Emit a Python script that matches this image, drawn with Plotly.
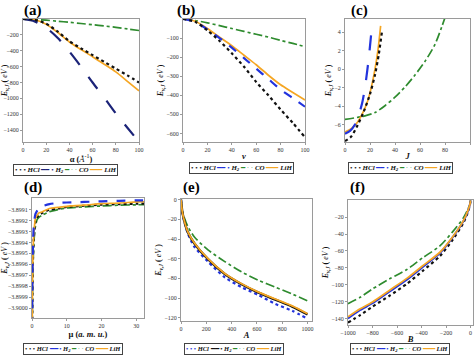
import plotly.graph_objects as go

W, H = 474, 355

# ---------------- data ----------------
# (a) E vs alpha
alpha = [0, 10, 20, 30, 40, 50, 60, 70, 80, 90, 100]
a_HCl = [0, -10, -60, -160, -280, -370, -455, -540, -625, -710, -800]
a_H2 = [0, -30, -110, -240, -410, -600, -800, -990, -1190, -1370, -1550]
a_CO = [0, -5, -15, -28, -42, -57, -72, -88, -105, -125, -145]
a_LiH = [0, -10, -65, -170, -290, -385, -475, -570, -667, -785, -905]

# (b) E vs v
v = [0, 10, 20, 30, 40, 50, 60, 70, 80, 90, 100]
b_HCl = [0, -15, -60, -115, -180, -250, -330, -400, -475, -545, -620]
b_H2 = [0, -15, -55, -100, -150, -205, -260, -315, -370, -415, -460]
b_CO = [0, -8, -20, -35, -50, -65, -80, -95, -112, -128, -145]
b_LiH = [0, -12, -50, -95, -140, -190, -240, -295, -345, -385, -425]

# (c) E vs J
J_HCl = [0, 5, 10, 15, 20, 24, 27, 29.5]
c_HCl = [-7.8, -7.3, -6.1, -4.6, -2.7, -0.6, 1.6, 4.0]
J_H2 = [0, 4, 8, 11, 14, 16.5, 19, 21.5]
c_H2 = [-7.0, -6.7, -6.0, -5.0, -3.5, -1.5, 1.2, 4.6]
J_CO = [0, 16, 24, 32, 40, 48, 56, 64, 72, 77.3, 81]
c_CO = [-5.45, -5.07, -4.7, -3.96, -3.04, -1.93, -0.63, 0.85, 2.7, 4.56, 6.0]
J_LiH = [0, 5, 10, 14, 18, 21, 24, 26.5, 28.5]
c_LiH = [-6.8, -6.45, -5.75, -4.8, -3.5, -2.0, 0.0, 2.2, 4.7]

# (d) E vs mu
mu = [0.02, 0.1, 0.2, 0.3, 0.5, 0.75, 1, 1.5, 2, 3, 5, 7.5, 10, 15, 20, 25, 30, 33]
d_HCl = [-3.9006, -3.9000, -3.89968, -3.89953, -3.89937, -3.89927, -3.89921, -3.89917,
         -3.89915, -3.89913, -3.89910, -3.89909, -3.899076, -3.899065, -3.899055,
         -3.89905, -3.899046, -3.899044]
d_H2 = [-3.9005, -3.8998, -3.89955, -3.89940, -3.89926, -3.89918, -3.89914, -3.89911,
        -3.89909, -3.89907, -3.89905, -3.89904, -3.899035, -3.89903, -3.899024,
        -3.89902, -3.899016, -3.899015]
d_CO = [-3.9007, -3.90005, -3.89975, -3.8996, -3.89943, -3.89931, -3.89925, -3.89919,
        -3.89917, -3.89915, -3.89912, -3.89910, -3.899085, -3.899075, -3.899067,
        -3.89906, -3.899056, -3.899054]
d_LiH = [-3.9005, -3.8999, -3.89963, -3.89948, -3.89933, -3.89924, -3.89918, -3.89915,
         -3.89913, -3.89912, -3.89909, -3.89908, -3.89907, -3.89906, -3.899045,
         -3.89904, -3.89903, -3.899028]

# (e) E vs A
A = [0, 10, 25, 53, 106, 213, 346, 479, 612, 745, 878, 1000]
e_HCl = [0, -13, -22, -34, -48, -63, -79, -89, -97, -106, -113, -121]
e_H2 = [0, -12, -21, -32.8, -44.5, -60.5, -75.5, -86, -94.6, -101.7, -108.7, -116.7]
e_CO = [0, -11, -18, -27, -38, -51, -63, -73.5, -82, -89, -96, -103]
e_LiH = [0, -12, -21, -32.5, -44, -60, -75, -85.5, -94, -101, -108, -116]

# (f) E vs B
B = [-1000, -900, -800, -660, -520, -390, -250, -145, -60, -20, -5, 0]
f_HCl = [-145, -136, -126, -113, -99, -83.5, -66, -46.5, -27, -13, -5, 0]
f_H2 = [-140, -130, -122, -108, -94, -79, -62.5, -43.5, -25, -12, -4.5, 0]
f_CO = [-122.5, -115, -105, -93, -82, -68, -54, -37, -21, -10, -4, 0]
f_LiH = [-138, -128.5, -120.5, -106.5, -92.5, -77.5, -61.5, -43, -24.5, -11.5, -4.5, 0]

# ---------------- styling ----------------
FONT = "Liberation Serif"
BLACK = "#111111"
NAVY = "#1b2378"
BLUE = "#2233dd"
GREEN = "#2e8b2e"
ORANGE = "#f5a623"


def px(x):
    return x / W


def py(y):
    return 1 - y / H


fig = go.Figure()

panels = [
    dict(k="", box=(23, 139, 19, 142), xr=[0, 100], yr=[-1550, 0],
         xt=[0, 20, 40, 60, 80, 100], yt=[-1400, -1200, -1000, -800, -600, -400, -200],
         xtitle="<b>α</b> <b>(</b><i>Å</i><sup>-1</sup><b>)</b>", yfmt=None),
    dict(k="2", box=(183, 305, 19, 142), xr=[0, 100], yr=[-645, 0],
         xt=[0, 20, 40, 60, 80, 100], yt=[-600, -500, -400, -300, -200, -100],
         xtitle="<b><i>v</i></b>", yfmt=None),
    dict(k="3", box=(345, 470, 19, 142), xr=[0, 100], yr=[-7.9, 5.45],
         xt=[0, 20, 40, 60, 80, 100], yt=[-6, -4, -2, 0, 2, 4],
         xtitle="<b><i>J</i></b>", yfmt=None),
    dict(k="4", box=(32, 144, 198, 318), xr=[0, 32.2], yr=[-3.900091, -3.898994],
         xt=[0, 10, 20, 30], yt=[-3.9000, -3.8999, -3.8998, -3.8997, -3.8996, -3.8995,
                                 -3.8994, -3.8993, -3.8992, -3.8991],
         xtitle="<b>μ</b> <b>(</b><b><i>a. m. u.</i></b><b>)</b>", yfmt=".4f"),
    dict(k="5", box=(181, 312, 199, 321), xr=[0, 1035], yr=[-123.4, 0.7],
         xt=[0, 200, 400, 600, 800, 1000], yt=[-120, -100, -80, -60, -40, -20, 0],
         xtitle="<b><i>A</i></b>", yfmt=None),
    dict(k="6", box=(348, 473, 200, 325), xr=[-1000, 20], yr=[-147.8, 0.5],
         xt=[-1000, -800, -600, -400, -200, 0], yt=[-140, -120, -100, -80, -60, -40, -20],
         xtitle="<b><i>B</i></b>", yfmt=None),
]

ytitle = "<b><i>E</i></b><sub><b><i>v,J</i></b></sub> <b>(</b> <i>eV</i> <b>)</b>"

layout_axes = {}
for p in panels:
    l, r, t, b = p["box"]
    xa = "xaxis" + p["k"]
    ya = "yaxis" + p["k"]
    common = dict(showline=True, mirror=True, linecolor="#9a9a9a", linewidth=1,
                  showgrid=False, zeroline=False, ticks="outside", ticklen=2,
                  tickcolor="#9a9a9a", tickfont=dict(family=FONT, size=6, color="#333"),
                  automargin=False, fixedrange=True)
    layout_axes[xa] = dict(common, domain=[px(l), px(r)], range=p["xr"], tickvals=p["xt"],
                           anchor="y" + p["k"],
                           title=dict(text=p["xtitle"], standoff=0,
                                      font=dict(family=FONT, size=8.5, color="#111")))
    yd = dict(common, domain=[py(b), py(t)], range=p["yr"], tickvals=p["yt"],
              anchor="x" + p["k"],
              title=dict(text=ytitle, standoff=1, font=dict(family=FONT, size=8, color="#111")))
    if p["yfmt"]:
        yd["tickformat"] = p["yfmt"]
    layout_axes[ya] = yd


def add(x, y, k, color, dash, width=1.7):
    fig.add_trace(go.Scatter(x=x, y=y, mode="lines", showlegend=False,
                             line=dict(color=color, dash=dash, width=width, shape="spline",
                                       smoothing=0.7),
                             xaxis="x" + k, yaxis="y" + k))


# (a)
add(alpha, a_CO, "", GREEN, "dashdot")
add(alpha, a_LiH, "", ORANGE, "solid")
add(alpha, a_H2, "", NAVY, "longdash", 2.2)
add(alpha, a_HCl, "", BLACK, "dot", 2.2)
# (b)
add(v, b_CO, "2", GREEN, "dashdot")
add(v, b_LiH, "2", ORANGE, "solid")
add(v, b_H2, "2", BLUE, "dash", 2.2)
add(v, b_HCl, "2", BLACK, "dot", 2.2)
# (c)
add(J_CO, c_CO, "3", GREEN, "dashdot")
add(J_LiH, c_LiH, "3", ORANGE, "solid")
add(J_H2, c_H2, "3", BLUE, "longdash", 2.2)
add(J_HCl, c_HCl, "3", BLACK, "dot", 2.2)
# (d)
add(mu, d_CO, "4", GREEN, "dashdot")
add(mu, d_HCl, "4", BLACK, "dot", 2.2)
add(mu, d_LiH, "4", ORANGE, "solid")
add(mu, d_H2, "4", BLUE, "dash", 2.2)
# (e)
add(A, e_HCl, "5", BLUE, "dot", 2.2)
add(A, e_CO, "5", GREEN, "dashdot")
add(A, e_H2, "5", BLACK, "solid", 2.4)
add(A, e_LiH, "5", ORANGE, "solid", 1.8)
# (f)
add(B, f_HCl, "6", BLACK, "dot", 2.2)
add(B, f_CO, "6", GREEN, "dashdot")
add(B, f_H2, "6", BLUE, "solid", 2)
add(B, f_LiH, "6", ORANGE, "solid", 1.8)


def span(c, s):
    return f'<span style="color:{c}">{s}</span>'


def leg(hcl_c, hcl_s, h2_c, h2_s):
    return (span(hcl_c, hcl_s) + " <b><i>HCl</i></b> " + span(h2_c, h2_s)
            + " <b><i>H<sub>2</sub></i></b> " + span(GREEN, "━ · ·")
            + " <b><i>CO</i></b> " + span(ORANGE, "━━━") + " <b><i>LiH</i></b>")


annotations = []
legend_specs = [
    ((65, 170), leg(BLACK, "• • •", NAVY, "━━ •"), 7),
    ((241, 168), leg(BLACK, "• • •", BLUE, "━━ •"), 7),
    ((400, 168), leg(BLACK, "• • •", BLUE, "━━ •"), 7),
    ((73, 349), leg(BLACK, "• • •", BLUE, "━━ •"), 6.5),
    ((234, 349), leg(BLUE, "• • •", BLACK, "━━ •"), 6.5),
    ((400, 349), leg(BLACK, "• • •", BLUE, "━━ •"), 6.5),
]
for (cx, cy), txt, fs in legend_specs:
    annotations.append(dict(x=px(cx), y=py(cy), xref="paper", yref="paper", text=txt,
                            showarrow=False, xanchor="center", yanchor="middle",
                            font=dict(family=FONT, size=fs, color="#111"),
                            bordercolor="#444", borderwidth=1, borderpad=1, bgcolor="white"))

labels = [("(a)", 33, 11), ("(b)", 186, 11), ("(c)", 359, 11),
          ("(d)", 33, 187), ("(e)", 191, 187), ("(f)", 357, 187)]
for t, cx, cy in labels:
    annotations.append(dict(x=px(cx), y=py(cy), xref="paper", yref="paper",
                            text=f"<b>{t}</b>", showarrow=False, xanchor="center",
                            yanchor="middle", font=dict(family=FONT, size=15, color="#000")))

fig.update_layout(width=W, height=H, margin=dict(l=0, r=0, t=0, b=0),
                  paper_bgcolor="white", plot_bgcolor="white",
                  font=dict(family=FONT), annotations=annotations, **layout_axes)

fig.write_html("out.html", config={"displayModeBar": False},
               post_script="document.body.style.margin='0';document.body.style.overflow='hidden';")
